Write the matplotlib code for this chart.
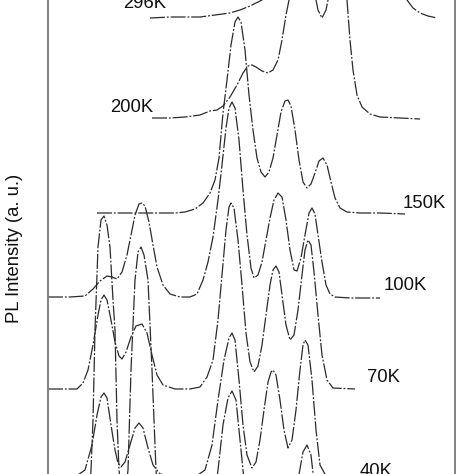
import numpy as np
import matplotlib
matplotlib.use("Agg")
from matplotlib import pyplot as plt

plt.rcParams['font.family'] = ['Liberation Sans', 'DejaVu Sans']

# stacked PL spectra, energy axis in arbitrary units, intensity above each baseline
x_296 = [150, 170, 190, 200, 215, 230, 240, 250, 262, 275, 290, 320, 350, 380, 395, 402, 407, 413, 420, 428, 437]
i_296 = [0, 1, 1, 1, 3, 5, 8, 12, 18, 38, 78, 98, 98, 78, 48, 28, 18, 10, 5, 2, 0]

x_200 = [152, 170, 185, 200, 210, 217, 223, 230, 237, 243, 248, 252, 256, 262, 268, 273, 278, 282, 286, 290, 295,
         300, 305, 310, 315, 318, 322, 326, 329, 333, 338, 343, 347, 350, 353, 357, 362, 370, 380, 400, 420]
i_200 = [0, 0, 1, 3, 7, 8, 12, 21, 33, 45, 52, 53, 51, 47, 45, 48, 58, 78, 103, 123, 158,
         178, 178, 148, 123, 108, 100, 108, 123, 158, 173, 148, 118, 78, 48, 23, 11, 4, 1, 0, -1]

x_150 = [97, 120, 150, 175, 185, 195, 203, 210, 215, 219, 223, 227, 231, 235, 238, 241, 245, 249, 253, 257, 261,
         265, 269, 273, 277, 281, 285, 288, 291, 295, 299, 303, 307, 311, 315, 319, 323, 327, 331, 335, 340,
         347, 360, 380, 405]
i_150 = [0, 0, 0, 0, 1, 4, 10, 20, 33, 55, 100, 133, 168, 191, 196, 191, 163, 118, 83, 55, 41,
         36, 41, 55, 78, 101, 112, 113, 107, 83, 53, 31, 25, 29, 40, 52, 55, 48, 31, 15, 5,
         1, 0, 0, -1]

x_100 = [48, 70, 85, 93, 100, 107, 112, 117, 122, 127, 131, 135, 139, 142, 145, 149, 153, 157, 163, 170,
         180, 190, 197, 203, 208, 213, 218, 222, 226, 229, 232, 235, 239, 243, 247, 251, 254, 258, 262, 266,
         270, 274, 278, 282, 286, 290, 294, 297, 301, 305, 309, 312, 315, 318, 322, 326, 330, 335, 350, 380]
i_100 = [0, 0, 1, 8, 16, 21, 20, 18, 25, 42, 62, 82, 93, 94, 91, 75, 52, 30, 12, 3,
         0, 0, 3, 17, 35, 60, 97, 132, 169, 189, 195, 189, 157, 107, 62, 29, 19, 22, 35, 57,
         79, 97, 104, 100, 77, 47, 27, 26, 39, 62, 84, 89, 83, 62, 35, 12, 3, 0, -1, -1]

x_70 = [48, 77, 83, 88, 93, 98, 101, 104, 107, 111, 115, 119, 122, 126, 131, 136, 142, 147, 152, 157,
        163, 175, 190, 200, 207, 213, 218, 222, 226, 229, 231, 234, 238, 242, 246, 250, 254, 258, 262, 266,
        270, 273, 276, 279, 282, 286, 290, 294, 298, 302, 305, 308, 311, 314, 318, 322, 327, 333, 355]
i_70 = [0, 0, 6, 19, 44, 74, 89, 94, 89, 69, 47, 33, 30, 37, 52, 63, 65, 56, 34, 14,
        4, 0, 0, 2, 12, 29, 69, 114, 159, 182, 186, 181, 149, 104, 56, 27, 17, 23, 44, 74,
        104, 119, 123, 117, 94, 64, 49, 54, 79, 114, 139, 149, 144, 117, 74, 34, 9, 1, 0]

x_40 = [48, 75, 85, 92, 97, 101, 104, 107, 111, 115, 118, 121, 125, 130, 135, 139, 143, 148, 153, 160,
        175, 195, 205, 212, 218, 224, 229, 232, 235, 239, 243, 247, 252, 256, 260, 264, 268, 271, 273, 276,
        280, 284, 288, 292, 296, 300, 303, 305, 308, 312, 316, 320, 326, 340, 360]
i_40 = [0, 0, 7, 32, 62, 80, 84, 79, 52, 27, 14, 10, 15, 32, 49, 54, 49, 29, 12, 3,
        0, 0, 7, 32, 77, 117, 139, 144, 137, 97, 52, 22, 9, 15, 37, 67, 95, 105, 107, 102,
        77, 47, 29, 37, 67, 107, 132, 137, 132, 97, 47, 12, 1, 0, 0]

# lowest spectrum, its label is outside the visible part
x_low = [48, 80, 86, 89, 91, 93, 95, 98, 101, 104, 107, 110, 113, 115, 117, 119, 122, 125, 128, 131,
         135, 138, 141, 144, 148, 152, 156, 160, 170, 190, 205, 212, 218, 223, 228, 232, 236, 241, 247, 253,
         260, 267, 273, 279, 286, 292, 298, 303, 307, 311, 316, 323, 335, 360]
i_low = [0, 2, 20, 60, 100, 150, 240, 323, 350, 354, 345, 323, 270, 240, 150, 100, 65, 70, 100, 200,
         290, 318, 323, 315, 290, 200, 100, 40, 5, 1, 10, 50, 100, 145, 172, 179, 170, 120, 60, 30,
         50, 80, 92, 80, 50, 60, 90, 118, 125, 115, 70, 20, 2, 0]

offsets = [456, 356, 261, 177, 85, -3, -96]
temps = ['296K', '200K', '150K', '100K', '70K', '40K', '']
label_x = [145, 132, 424, 405, 383, 376, 0]
label_dy = [15, 11, 10, 11, 12, 6, 0]

xs = [x_296, x_200, x_150, x_100, x_70, x_40, x_low]
ys = [i_296, i_200, i_150, i_100, i_70, i_40, i_low]

fig = plt.figure(figsize=(4.74, 4.74), dpi=100)
ax = fig.add_axes([48 / 474, 0, 407 / 474, 1])

for x, y, off, t, lx, dy in zip(xs, ys, offsets, temps, label_x, label_dy):
    ax.plot(x, np.array(y) + off, color='#2b2b2b', lw=0.9,
            linestyle=(0, (12, 1.5, 1.5, 1.5)))
    if t:
        ax.text(lx, off + dy, t, fontsize=13.3, ha='center', va='center', color='#111111')

ax.set_xlim(48, 455)
ax.set_ylim(0, 474)
ax.set_xticks([])
ax.set_yticks([])
for s in ['top', 'bottom']:
    ax.spines[s].set_visible(False)
for s in ['left', 'right']:
    ax.spines[s].set_color('#777777')
    ax.spines[s].set_linewidth(1.3)

fig.text(15 / 474, 1 - 248 / 474, 'PL Intensity (a. u.)', rotation=90,
         ha='center', va='center', fontsize=13.3, color='#111111')

fig.savefig('out.png', dpi=100)
